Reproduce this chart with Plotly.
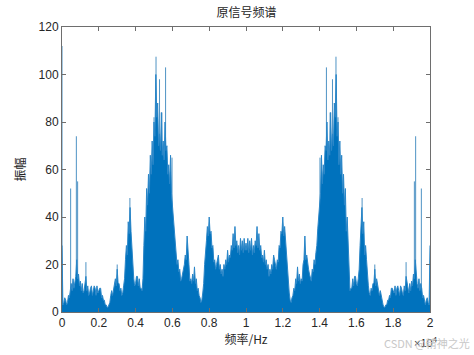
import plotly.graph_objects as go

# Half-spectrum (0 .. 1.0 x10^4 Hz) dense-band upper envelope (step 0.005)
half_amp = [28, 3, 4, 6, 5, 3, 4, 7, 6, 10,
            12, 9, 14, 10, 12, 15, 22, 14, 16, 11,
            13, 9, 12, 8, 9, 12, 15, 9, 11, 7,
            8, 10, 11, 7, 9, 11, 10, 7, 11, 8,
            9, 10, 10, 6, 7, 5, 5, 3, 3, 2,
            2, 3, 4, 7, 9, 7, 10, 12, 14, 11,
            18, 12, 12, 9, 10, 7, 8, 11, 14, 22,
            28, 24, 38, 33, 44, 34, 28, 18, 14, 11,
            12, 15, 15, 11, 14, 10, 10, 9, 14, 28,
            40, 34, 52, 45, 58, 50, 66, 58, 72, 62,
            80, 74, 100, 82, 88, 70, 75, 68, 84, 66,
            72, 64, 80, 68, 70, 58, 62, 54, 66, 50,
            45, 40, 35, 28, 25, 20, 22, 17, 18, 13,
            14, 16, 18, 20, 24, 22, 32, 22, 20, 13,
            14, 12, 16, 13, 19, 12, 14, 9, 10, 7,
            6, 4, 5, 8, 12, 20, 28, 30, 36, 32,
            40, 33, 34, 27, 28, 21, 22, 18, 20, 22,
            24, 18, 20, 16, 18, 15, 20, 18, 22, 20,
            26, 21, 24, 23, 28, 26, 33, 27, 36, 28,
            30, 25, 28, 24, 31, 26, 30, 25, 31, 26,
            29]
half_freq = [round(i * 0.005, 3) for i in range(len(half_amp))]

# Thin tall spectral lines (half spectrum)
spike_freq = [0.047, 0.078, 0.085, 0.13, 0.30, 0.369, 0.50, 0.511, 0.53, 0.543, 0.563, 0.598]
spike_amp = [52, 74, 55, 21, 20, 48, 82, 107.5, 98, 84, 103, 65]
dc_freq = [0.0]
dc_amp = [112]

# Mirror for the symmetric FFT (1 .. 2 x10^4 Hz)
freq = half_freq + [round(2 - f, 4) for f in reversed(half_freq[:-1])]
amp = half_amp + list(reversed(half_amp[:-1]))
sp_f = spike_freq + [2 - f for f in spike_freq] + dc_freq
sp_a = spike_amp + spike_amp + dc_amp

sx, sy = [], []
for f, a in zip(sp_f, sp_a):
    sx += [f, f, None]
    sy += [0, a, None]

x_ticks = [0, 0.2, 0.4, 0.6, 0.8, 1, 1.2, 1.4, 1.6, 1.8, 2]
x_labels = ["0", "0.2", "0.4", "0.6", "0.8", "1", "1.2", "1.4", "1.6", "1.8", "2"]
y_ticks = [0, 20, 40, 60, 80, 100, 120]

blue = "#0072BD"
fig = go.Figure()
fig.add_trace(go.Scatter(x=sx, y=sy, mode="lines",
                         line=dict(color="#4f93c4", width=1),
                         hoverinfo="skip", showlegend=False))
fig.add_trace(go.Scatter(x=freq, y=amp, mode="lines", fill="tozeroy",
                         fillcolor=blue, line=dict(color="#2a86c8", width=1),
                         hoverinfo="skip", showlegend=False))

axis_common = dict(showline=True, linecolor="#6e6e6e", linewidth=1, mirror="ticks",
                   ticks="inside", ticklen=4, tickcolor="#6e6e6e", showgrid=False,
                   zeroline=False, tickfont=dict(family="Liberation Sans, Arial", size=12, color="#262626"))
fig.update_xaxes(range=[0, 2], tickvals=x_ticks, ticktext=x_labels, **axis_common,
                 title=dict(text="频率/Hz", font=dict(family="Noto Sans CJK SC", size=12, color="#262626"),
                            standoff=4))
fig.update_yaxes(range=[0, 120], tickvals=y_ticks, **axis_common,
                 title=dict(text="振幅", font=dict(family="Noto Sans CJK SC", size=12, color="#262626"),
                            standoff=10))

fig.update_layout(
    width=474, height=355,
    margin=dict(l=62, r=44, t=27, b=40),
    plot_bgcolor="white", paper_bgcolor="white",
    title=dict(text="原信号频谱", x=0.52, xanchor="center", y=0.965, yanchor="middle",
               font=dict(family="Noto Sans CJK SC", size=12, color="#262626")),
    annotations=[
        dict(text="×10<sup>4</sup>", xref="paper", yref="paper", x=0.99, y=-0.075,
             xanchor="center", yanchor="top", showarrow=False,
             font=dict(family="Liberation Sans, Arial", size=11, color="#262626")),
        dict(text="CSDN @精神之光", xref="paper", yref="paper", x=1.115, y=-0.075,
             xanchor="right", yanchor="top", showarrow=False,
             font=dict(family="Noto Sans CJK SC", size=11, color="#c8c8c8")),
    ],
)

fig.write_html("out.html")
